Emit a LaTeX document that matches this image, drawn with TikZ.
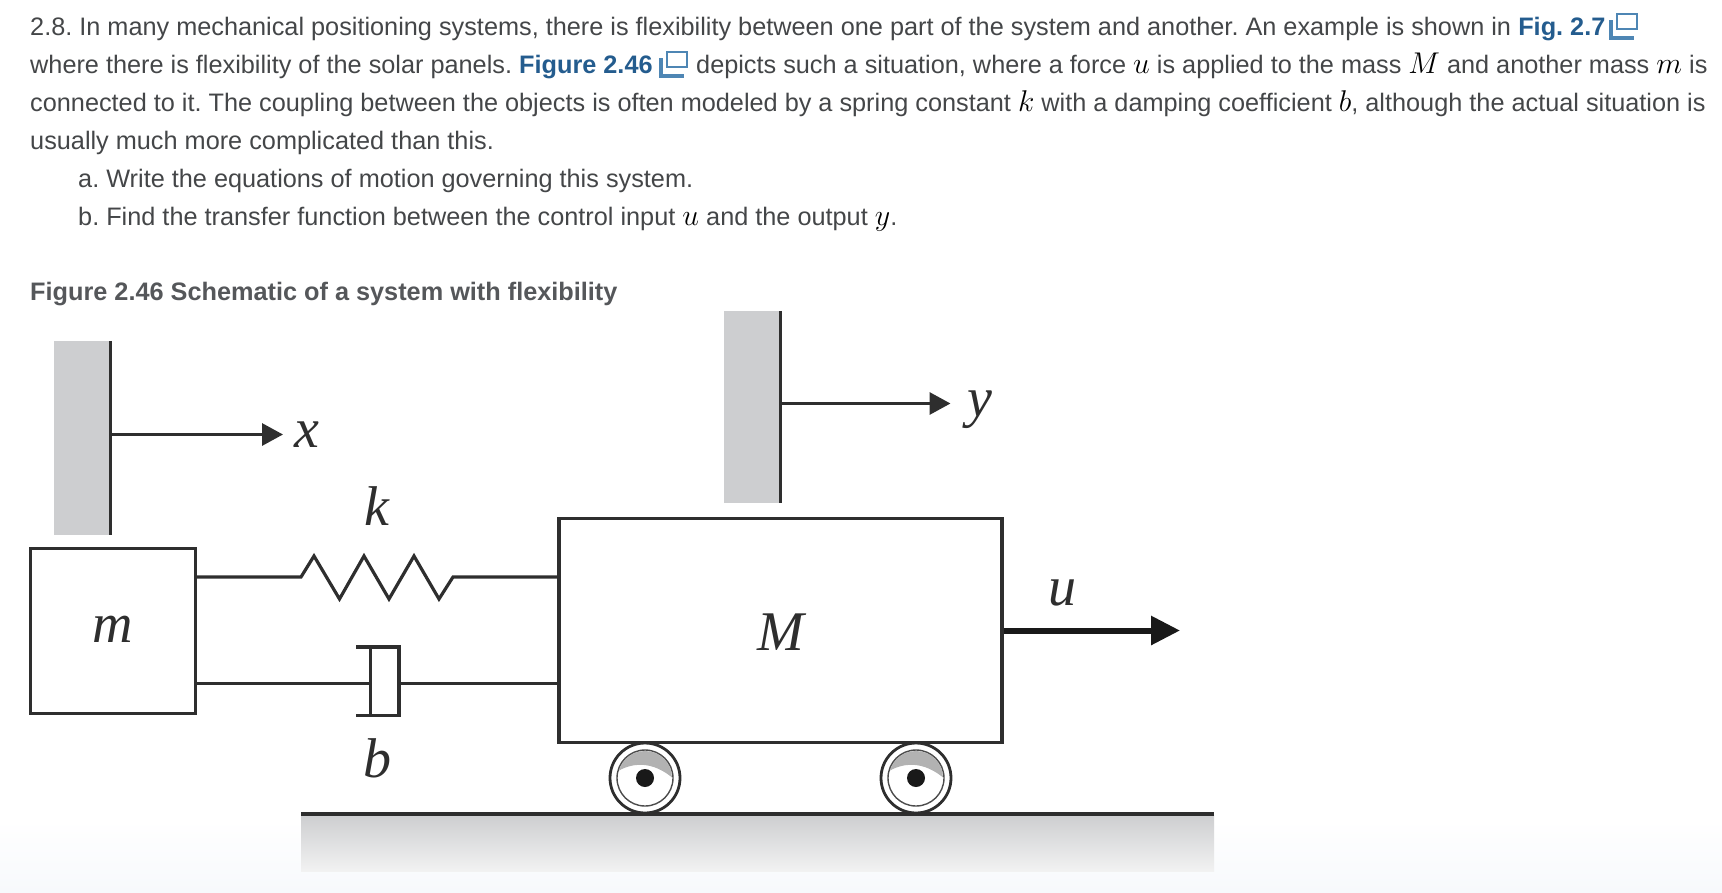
\documentclass[tikz,border=0pt]{standalone}
\usepackage{fontspec}
\usepackage{fix-cm}
\setmainfont{Liberation Sans}
\newfontfamily\lblfont{Liberation Serif}
\usetikzlibrary{arrows.meta}
\definecolor{txt}{HTML}{444648}
\definecolor{capt}{HTML}{55575A}
\definecolor{lnk}{HTML}{245C8E}
\definecolor{icn}{HTML}{4E86B4}
\definecolor{ink}{HTML}{2E2E2E}
\definecolor{wallgray}{HTML}{CDCED0}
\definecolor{pagebot}{HTML}{F7F9FC}
\newcommand{\bl}[1]{\textcolor{lnk}{\textbf{#1}}}
\newcommand{\mth}[1]{{\fontsize{30}{28}\selectfont\color{black}$#1$}}
\tikzset{
  x=1pt,y=-1pt,
  body/.style={font=\fontsize{25.28}{28}\selectfont\frenchspacing,text=txt,anchor=base west,inner sep=0pt},
  capline/.style={font=\fontsize{25.28}{28}\selectfont\bfseries\frenchspacing,text=capt,anchor=base west,inner sep=0pt},
  sym/.style={font=\lblfont\itshape\fontsize{56}{60}\selectfont,text=ink,anchor=base,inner sep=0pt},
  massbox/.style={draw=ink,line width=3.2pt,fill=white,inner sep=0pt},
  wire/.style={draw=ink,line width=3.2pt,line join=miter},
  wallline/.style={draw=ink,line width=3.4pt},
  wallblock/.style={fill=wallgray,draw=none,inner sep=0pt},
  sense/.style={draw=ink,line width=3.2pt,-{Triangle[length=21pt,width=22pt]}},
  force/.style={draw=black!90,line width=6pt,-{Triangle[length=29pt,width=28pt]}},
  icon/.pic={
    \draw[icn,line width=2.6pt] (6,-6) rectangle (26,9);
    \draw[icn,line width=3.2pt] (0,0) -- (0,18) -- (23,18);
  },
  wheel/.pic={
    \begin{scope}
      \clip (0,0) circle (27);
      \fill[black!30] (-30,-5) .. controls (-14,-16) and (8,-18) .. (30,2) -- (30,-30) -- (-30,-30) -- cycle;
    \end{scope}
    \draw[black!70,line width=1.4pt] (0,0) circle (28);
    \draw[ink,line width=2.8pt] (0,0) circle (35);
    \fill[black!90] (0,0) circle (9);
  },
}
\begin{document}
\begin{tikzpicture}
\useasboundingbox (0,0) rectangle (1722,892);
\shade[top color=white,bottom color=pagebot] (0,820) rectangle (1722,892);
% text
\node[body] (l1) at (30,35) {2.8. In many mechanical positioning systems, there is flexibility between one part of the system and another. An example is shown in \bl{Fig. 2.7}};
\pic at (1611,20) {icon};
\node[body] (l2a) at (30,73) {where there is flexibility of the solar panels. \bl{Figure 2.46}};
\pic at (661,58) {icon};
\node[body] (l2b) at (696,73) {depicts such a situation, where a force \mth{u} is applied to the mass \mth{M} and another mass \mth{m} is};
\node[body] (l3) at (30,111) {connected to it. The coupling between the objects is often modeled by a spring constant \mth{k} with a damping coefficient \mth{b}, although the actual situation is};
\node[body] (l4) at (30,149) {usually much more complicated than this.};
\node[body] (la) at (78,187) {a. Write the equations of motion governing this system.};
\node[body] (lb) at (78,225) {b. Find the transfer function between the control input \mth{u} and the output \mth{y}.};
\node[capline] (capt) at (30,300) {Figure 2.46 Schematic of a system with flexibility};
% ground
\shade[top color=wallgray,bottom color=black!5] (301,815) rectangle (1214,871.5);
\coordinate (gL) at (301,814);
\coordinate (gR) at (1214,814);
\draw[wire] (gL) -- (gR);
% walls
\node[wallblock,minimum width=56pt,minimum height=194pt] (wallL) at (82,438) {};
\node[wallblock,minimum width=57pt,minimum height=192pt] (wallR) at (752,407) {};
\draw[wallline] (wallL.north east) -- (wallL.south east);
\draw[wallline] (wallR.north east) -- (wallR.south east);
% masses
\node[massbox,minimum width=165pt,minimum height=165pt] (mbox) at (113,631) {};
\node[sym] (mlab) at (113,642) {m};
\node[massbox,minimum width=443pt,minimum height=224pt] (Mbox) at (780.5,630.5) {};
\node[sym] (Mlab) at (780.5,650) {M};
% spring
\coordinate (sL) at (mbox.east |- 0,577);
\coordinate (sR) at (Mbox.west |- 0,577);
\draw[wire] (sL) -- (301,577) -- (314,556) -- (339.5,599) -- (364,556) -- (389,599) -- (414,556) -- (439,599) -- (453,577) -- (sR);
\node[sym] (klab) at (377,525) {k};
% damper
\coordinate (dL) at (mbox.east |- 0,683.5);
\coordinate (dR) at (Mbox.west |- 0,683.5);
\coordinate (dP) at (370.5,683.5);
\coordinate (dC) at (399,683.5);
\draw[wire] (dL) -- (dP);
\draw[wire] (dC) -- (dR);
\draw[wire] (dP |- 0,647) -- (dP |- 0,715.7);
\draw[wire] (356,647) -- (399,647) -- (399,715.7) -- (356,715.7);
\node[sym] (blab) at (377,777.5) {b};
% sensors
\coordinate (xs) at (wallL.east |- 0,434.5);
\coordinate (xe) at (283,434.5);
\draw[sense] (xs) -- (xe);
\node[sym] (xlab) at (307,447.5) {x};
\coordinate (ys) at (wallR.east |- 0,403.5);
\coordinate (ye) at (950.5,403.5);
\draw[sense] (ys) -- (ye);
\node[sym] (ylab) at (980,416) {y};
% force
\coordinate (ue) at (1180,630.5);
\draw[force] (Mbox.east) -- (ue);
\node[sym] (ulab) at (1062.5,605) {u};
% wheels
\pic at (645,778) {wheel};
\pic at (916,778) {wheel};
\end{tikzpicture}
\end{document}
